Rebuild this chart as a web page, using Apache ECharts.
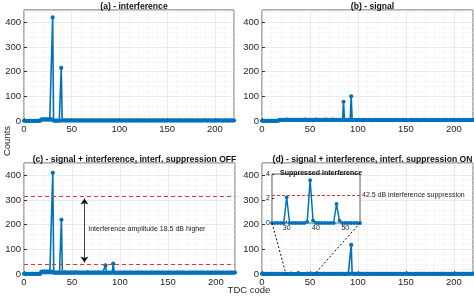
<!DOCTYPE html>
<html lang="en">
<head>
    <meta charset="UTF-8">
    <title>TDC histograms</title>
    <script src="https://cdn.jsdelivr.net/npm/echarts@6/dist/echarts.min.js"></script>
    <style>
        html, body { margin: 0; padding: 0; background: #fff; }
        #main { width: 474px; height: 297px; }
    </style>
</head>
<body>
<div id="main"></div>
<script>
    // counts per TDC code 0..220
    var interference = [
        1,1,0,1,1,0,1,1,1,0,
        1,1,1,0,1,1,1,1,6,7,
        6,6,7,6,6,7,6,6,7,6,
        420,2,1,2,1,2,1,1,2,215,
        2,2,3,2,2,2,3,2,2,2,
        2,3,2,2,2,2,3,2,2,2,
        3,2,2,2,3,2,2,2,2,3,
        2,2,2,3,2,2,2,2,3,2,
        2,2,3,2,2,2,2,3,2,2,
        2,3,2,2,2,3,2,2,2,2,
        3,2,2,2,2,3,2,2,2,3,
        2,2,2,3,2,2,2,2,3,2,
        2,3,2,2,2,2,3,2,2,2,
        2,2,3,2,2,2,3,2,2,2,
        3,2,2,2,2,3,2,2,2,2,
        2,2,3,2,2,2,2,3,2,2,
        2,3,2,2,3,2,2,2,2,3,
        2,2,2,3,2,2,2,3,2,2,
        2,2,3,2,2,2,2,2,3,2,
        3,2,2,2,3,2,2,2,2,2,
        2,2,3,2,2,3,2,2,2,2,
        2,3,2,2,2,2,3,2,2,2,
        2
    ];
    var signal = [
        1,0,1,1,0,1,1,1,0,1,
        1,1,0,1,1,1,1,1,4,5,
        5,4,5,5,4,5,6,5,4,5,
        5,4,5,5,4,5,5,4,5,5,
        4,5,5,4,5,6,5,4,5,5,
        5,4,5,5,4,5,5,6,5,4,
        5,5,4,5,5,4,6,5,5,4,
        5,4,5,5,6,5,4,5,5,4,
        5,4,5,4,5,78,5,4,5,4,
        5,4,5,100,5,4,4,5,4,4,
        4,5,4,4,3,4,5,4,4,4,
        4,4,5,4,4,3,4,4,5,4,
        4,3,4,4,4,5,4,4,4,3,
        4,4,4,5,4,4,3,4,4,4,
        5,4,4,4,3,4,4,5,4,4,
        4,4,3,4,4,4,5,4,4,3,
        4,5,4,4,4,3,4,4,4,5,
        4,4,4,3,4,5,4,4,4,4,
        3,4,4,5,4,4,4,3,4,4,
        4,4,5,4,3,4,4,4,4,5,
        4,3,4,4,4,5,4,4,3,4,
        4,4,4,5,4,4,3,4,4,4,
        4
    ];
    var combined = [
        1,1,0,1,1,1,0,1,1,1,
        1,0,1,1,1,1,0,1,9,10,
        9,10,10,9,10,10,9,10,10,9,
        410,6,5,6,6,5,6,5,6,220,
        6,5,6,7,6,5,6,6,5,6,
        6,6,5,6,7,6,5,6,6,5,
        6,5,6,6,5,6,7,6,5,6,
        5,6,6,5,6,6,5,7,6,5,
        6,5,6,6,5,35,6,5,6,5,
        6,5,6,42,6,5,6,5,6,5,
        6,5,6,5,6,6,5,6,5,6,
        5,6,6,5,6,5,6,6,5,6,
        6,5,6,6,5,6,5,6,6,5,
        5,6,5,6,6,5,6,6,5,6,
        6,5,6,5,6,6,5,6,5,6,
        5,6,6,5,6,5,6,6,5,6,
        6,5,6,6,5,6,6,5,6,5,
        5,6,5,6,6,5,6,5,6,6,
        6,5,6,5,6,6,5,6,6,5,
        5,6,6,5,6,5,6,6,5,6,
        6,5,6,6,5,6,5,6,6,5,
        5,6,5,6,6,5,6,6,5,6,
        6
    ];
    var suppressed = [
        1,0,1,1,0,1,1,0,1,1,
        1,1,0,1,1,1,0,1,1,1,
        0,1,1,1,0,0,0,0,0,0,
        2,0,0,0,0,0,0,0,4,0,
        0,0,0,0,0,0,0,2,0,0,
        0,1,1,1,0,1,1,1,0,1,
        1,1,0,1,1,1,1,0,1,1,
        1,0,1,1,1,1,0,1,1,1,
        1,1,0,1,1,1,0,1,1,1,
        1,1,1,118,1,1,1,1,1,1,
        1,0,1,1,1,1,0,1,1,1,
        1,1,0,1,1,1,1,0,1,1,
        0,1,1,1,0,1,1,1,1,0,
        1,1,1,0,1,1,1,1,0,1,
        1,0,1,1,1,1,0,1,1,1,
        1,1,1,0,1,1,1,0,1,1,
        0,1,1,1,1,0,1,1,1,1,
        1,1,0,1,1,1,1,0,1,1,
        1,0,1,1,1,0,1,1,1,1,
        1,1,1,0,1,1,0,1,1,1,
        0,1,1,1,1,0,1,1,1,1,
        1,1,0,1,1,1,1,0,1,1,
        1
    ];
    // inset: TDC codes 25..55
    var insetStart = 25;
    var insetValues = [
        0,0,0,0,0,
        2.1,
        0,0,0,0,0,0,
        0.1,3.5,0.2,
        0,0,0,0,0,0,0,
        1.55,0.2,
        0,0,0,0,0,0,0
    ];
    var insetXTicks = [30, 40, 50];
    var refLinesC = [315, 38];
    var refLineInset = 2.3;

    var blue = '#0072BD';
    var font = "'Liberation Sans', Arial, sans-serif";
    var boxes = [
        {left: 24, top: 10, width: 210, height: 111},
        {left: 262, top: 10, width: 211, height: 111},
        {left: 24, top: 163, width: 211, height: 111},
        {left: 262, top: 163, width: 211, height: 111}
    ];
    var titles = ['(a) - interference', '(b) - signal',
        '(c) - signal + interference, interf. suppression OFF',
        '(d) - signal + interference, interf. suppression ON'];

    function pairs(arr, start) {
        return arr.map(function (v, i) { return [start + i, v]; });
    }

    var grids = [], xAxes = [], yAxes = [], series = [], titleOpts = [];
    boxes.forEach(function (b, k) {
        grids.push({left: b.left, top: b.top, width: b.width, height: b.height,
            show: true, borderColor: '#333', borderWidth: 0.8, backgroundColor: '#fff'});
        xAxes.push({type: 'value', gridIndex: k, min: 0, max: 220, interval: 50,
            axisLine: {show: false}, axisTick: {show: true, inside: true, length: 3, lineStyle: {color: '#333'}},
            axisLabel: {color: '#262626', fontSize: 9.5, fontFamily: font, margin: 3, showMaxLabel: false},
            splitLine: {show: true, lineStyle: {color: '#dcdcdc', width: 0.6}},
            minorTick: {show: false, splitNumber: 5},
            minorSplitLine: {show: true, lineStyle: {color: '#efefef', width: 0.5}}});
        yAxes.push({type: 'value', gridIndex: k, min: 0, max: 450, interval: 100,
            axisLine: {show: false}, axisTick: {show: true, inside: true, length: 3, lineStyle: {color: '#333'}},
            axisLabel: {color: '#262626', fontSize: 9.5, fontFamily: font, margin: 3, showMaxLabel: false},
            splitLine: {show: true, lineStyle: {color: '#dcdcdc', width: 0.6}},
            minorTick: {show: false, splitNumber: 5},
            minorSplitLine: {show: true, lineStyle: {color: '#efefef', width: 0.5}}});
        titleOpts.push({text: titles[k], left: b.left + b.width / 2, top: b.top - 13, textAlign: 'center',
            textStyle: {fontSize: 8.6, fontWeight: 'bold', color: '#111', fontFamily: font}});
    });

    var datasets = [interference, signal, combined, suppressed];
    datasets.forEach(function (d, k) {
        var s = {type: 'line', xAxisIndex: k, yAxisIndex: k, data: pairs(d, 0),
            symbol: 'circle', symbolSize: 4.2, showAllSymbol: true, z: 2,
            lineStyle: {color: blue, width: 1.6}, itemStyle: {color: blue}, silent: true};
        if (k === 2) {
            s.markLine = {silent: true, symbol: ['none', 'none'], label: {show: false},
                lineStyle: {color: '#e8303a', type: [4, 3], width: 1},
                data: [{yAxis: refLinesC[0]}, {yAxis: refLinesC[1]},
                    [{coord: [63, 306], symbol: 'arrow', symbolSize: 6, lineStyle: {color: '#111', type: 'solid', width: 0.8}},
                     {coord: [63, 47], symbol: 'arrow', symbolSize: 6}]]};
            s.markPoint = {silent: true, symbol: 'circle', symbolSize: 0,
                data: [{coord: [67, 184], label: {show: true, position: 'right', distance: 0,
                    formatter: 'Interference amplitude 18.5 dB higher',
                    fontSize: 7, color: '#222', fontFamily: font}}]};
        }
        series.push(s);
    });

    // inset
    var inset = {left: 272, top: 174, width: 88, height: 49};
    grids.push({left: inset.left, top: inset.top, width: inset.width, height: inset.height,
        show: true, borderColor: '#333', borderWidth: 0.8, backgroundColor: '#fff', z: 3});
    xAxes.push({type: 'value', gridIndex: 4, min: insetStart, max: insetStart + insetValues.length - 1, z: 4,
        axisLine: {show: false},
        axisTick: {show: true, inside: true, length: 2, customValues: insetXTicks, lineStyle: {color: '#333'}},
        axisLabel: {color: '#262626', fontSize: 7, fontFamily: font, margin: 2, customValues: insetXTicks},
        splitLine: {show: false}});
    yAxes.push({type: 'value', gridIndex: 4, min: 0, max: 4, interval: 2, z: 4,
        axisLine: {show: false}, axisTick: {show: true, inside: true, length: 2, lineStyle: {color: '#333'}},
        axisLabel: {color: '#262626', fontSize: 7, fontFamily: font, margin: 2},
        splitLine: {show: false}});
    series.push({type: 'line', xAxisIndex: 4, yAxisIndex: 4, data: pairs(insetValues, insetStart), z: 5,
        symbol: 'circle', symbolSize: 3.8, showAllSymbol: true, silent: true,
        lineStyle: {color: blue, width: 1.5}, itemStyle: {color: blue},
        markLine: {silent: true, symbol: ['none', 'none'], label: {show: false}, z: 5,
            lineStyle: {color: '#e8303a', type: [3, 2], width: 1}, data: [{yAxis: refLineInset}]},
        markPoint: {silent: true, symbol: 'circle', symbolSize: 0,
            data: [{coord: [insetStart + insetValues.length - 1, refLineInset], label: {show: true, position: 'right', distance: 2,
                formatter: '42.5 dB interference suppression', fontSize: 7, color: '#222', fontFamily: font}}]}});
    titleOpts.push({text: 'Suppressed interference', left: inset.left + inset.width / 2, top: inset.top - 9,
        textAlign: 'center', textStyle: {fontSize: 7, fontWeight: 'bold', color: '#111', fontFamily: font}});

    var chart = echarts.init(document.getElementById('main'), null, {renderer: 'canvas'});
    chart.setOption({
        animation: false,
        backgroundColor: '#fff',
        title: titleOpts,
        grid: grids,
        xAxis: xAxes,
        yAxis: yAxes,
        series: series
    });

    // zoom lines from panel (d) axis to the inset corners
    var insetEnd = insetStart + insetValues.length - 1;
    var p1 = chart.convertToPixel({gridIndex: 3}, [insetStart, 0]);
    var p2 = chart.convertToPixel({gridIndex: 3}, [insetEnd, 0]);
    var c1 = chart.convertToPixel({gridIndex: 4}, [insetStart, 0]);
    var c2 = chart.convertToPixel({gridIndex: 4}, [insetEnd, 0]);
    chart.setOption({
        graphic: [
            {type: 'line', shape: {x1: c1[0], y1: c1[1], x2: p1[0], y2: p1[1]}, z: 10,
                style: {stroke: '#111', lineWidth: 1, lineDash: [2, 2]}},
            {type: 'line', shape: {x1: c2[0], y1: c2[1], x2: p2[0], y2: p2[1]}, z: 10,
                style: {stroke: '#111', lineWidth: 1, lineDash: [2, 2]}},
            {type: 'text', x: 7, y: 141, rotation: Math.PI / 2,
                style: {text: 'Counts', fontSize: 9.5, fill: '#262626', fontFamily: font, align: 'center', verticalAlign: 'middle'}},
            {type: 'text', x: 249, y: 290,
                style: {text: 'TDC code', fontSize: 9.5, fill: '#262626', fontFamily: font, align: 'center', verticalAlign: 'middle'}}
        ]
    });
</script>
</body>
</html>
